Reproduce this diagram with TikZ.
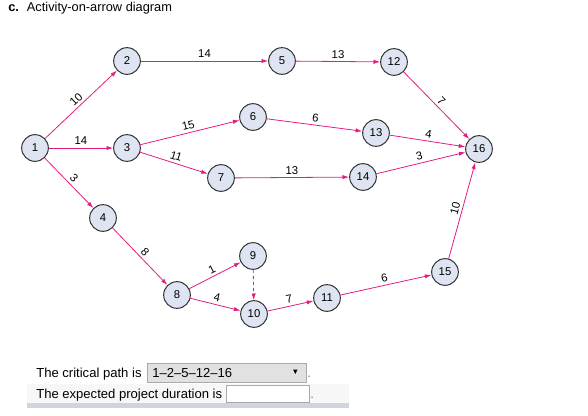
\documentclass[tikz,border=0pt]{standalone}
\usepackage{fontspec}
\setmainfont{Liberation Sans}
\usetikzlibrary{arrows.meta}
\definecolor{actpink}{RGB}{228,28,128}
\definecolor{evfill}{RGB}{222,228,242}
\definecolor{evline}{RGB}{50,50,50}
\definecolor{boxgray}{RGB}{225,225,225}
\definecolor{boxline}{RGB}{170,170,170}
\definecolor{rowgray}{RGB}{247,247,247}
\definecolor{barblue}{RGB}{207,213,222}

\begin{document}
\begin{tikzpicture}[x=0.75pt,y=-0.75pt,
    event/.style={circle,draw=evline,fill=evfill,line width=0.75pt,
        minimum size=20pt,inner sep=0pt,font=\fontsize{8.5}{10}\selectfont},
    act/.style={actpink,line width=0.6pt,-{Latex[length=5pt,width=3.2pt]}},
    lbl/.style={midway,above,sloped,text=black,inner sep=2pt,
        font=\fontsize{8.5}{10}\selectfont},
    formtext/.style={anchor=base west,inner sep=0pt,font=\fontsize{9.8}{12}\selectfont}]
    \useasboundingbox (0,0) rectangle (588,416);
    \node[formtext,font=\fontsize{9.6}{12}\selectfont] (title) at (8,12)
        {\textbf{c.}\hspace{6pt}Activity-on-arrow diagram};
    % events
    \foreach \n/\x/\y in {1/35/148, 2/127/61, 3/127/148, 4/103/218,
        5/282/61, 6/253/117, 7/221/178, 8/177/295, 9/253/256, 10/254/314,
        11/327/298, 12/394/62, 13/376/133, 14/363/177, 15/445/272, 16/479/149}
        \node[event] (e\n) at (\x,\y) {\n};
    % activities
    \foreach \a/\b/\t in {1/2/10, 1/3/14, 1/4/3, 2/5/14, 3/6/15, 3/7/11,
        4/8/8, 5/12/13, 6/13/6, 7/14/13, 8/9/1, 8/10/4, 10/11/7, 11/15/6,
        12/16/7, 13/16/4, 14/16/3, 15/16/10}
        \draw[act] (e\a) -- node[lbl] {\t} (e\b);
    \draw[act,dash pattern=on 2.5pt off 2pt] (e9) -- (e10);
    % answer fields
    \fill[rowgray] (27,384) rectangle (349,403);
    \fill[barblue] (27,403) rectangle (349,408);
    \node[formtext] (crit) at (36,377) {The critical path is};
    \draw[boxline,fill=boxgray,line width=0.75pt] (147,363) rectangle (306,382);
    \node[formtext] (path) at (152,377) {1--2--5--12--16};
    \fill[black] (293,369.5) -- (297.5,369.5) -- (295.25,374) -- cycle;
    \node[formtext,text=gray] (dot1) at (307,377) {.};
    \node[formtext] (dur) at (36,398) {The expected project duration is};
    \draw[boxline,fill=white,line width=0.75pt] (226,385) rectangle (309,402);
    \node[formtext,text=gray] (dot2) at (310,398) {.};
\end{tikzpicture}
\end{document}
